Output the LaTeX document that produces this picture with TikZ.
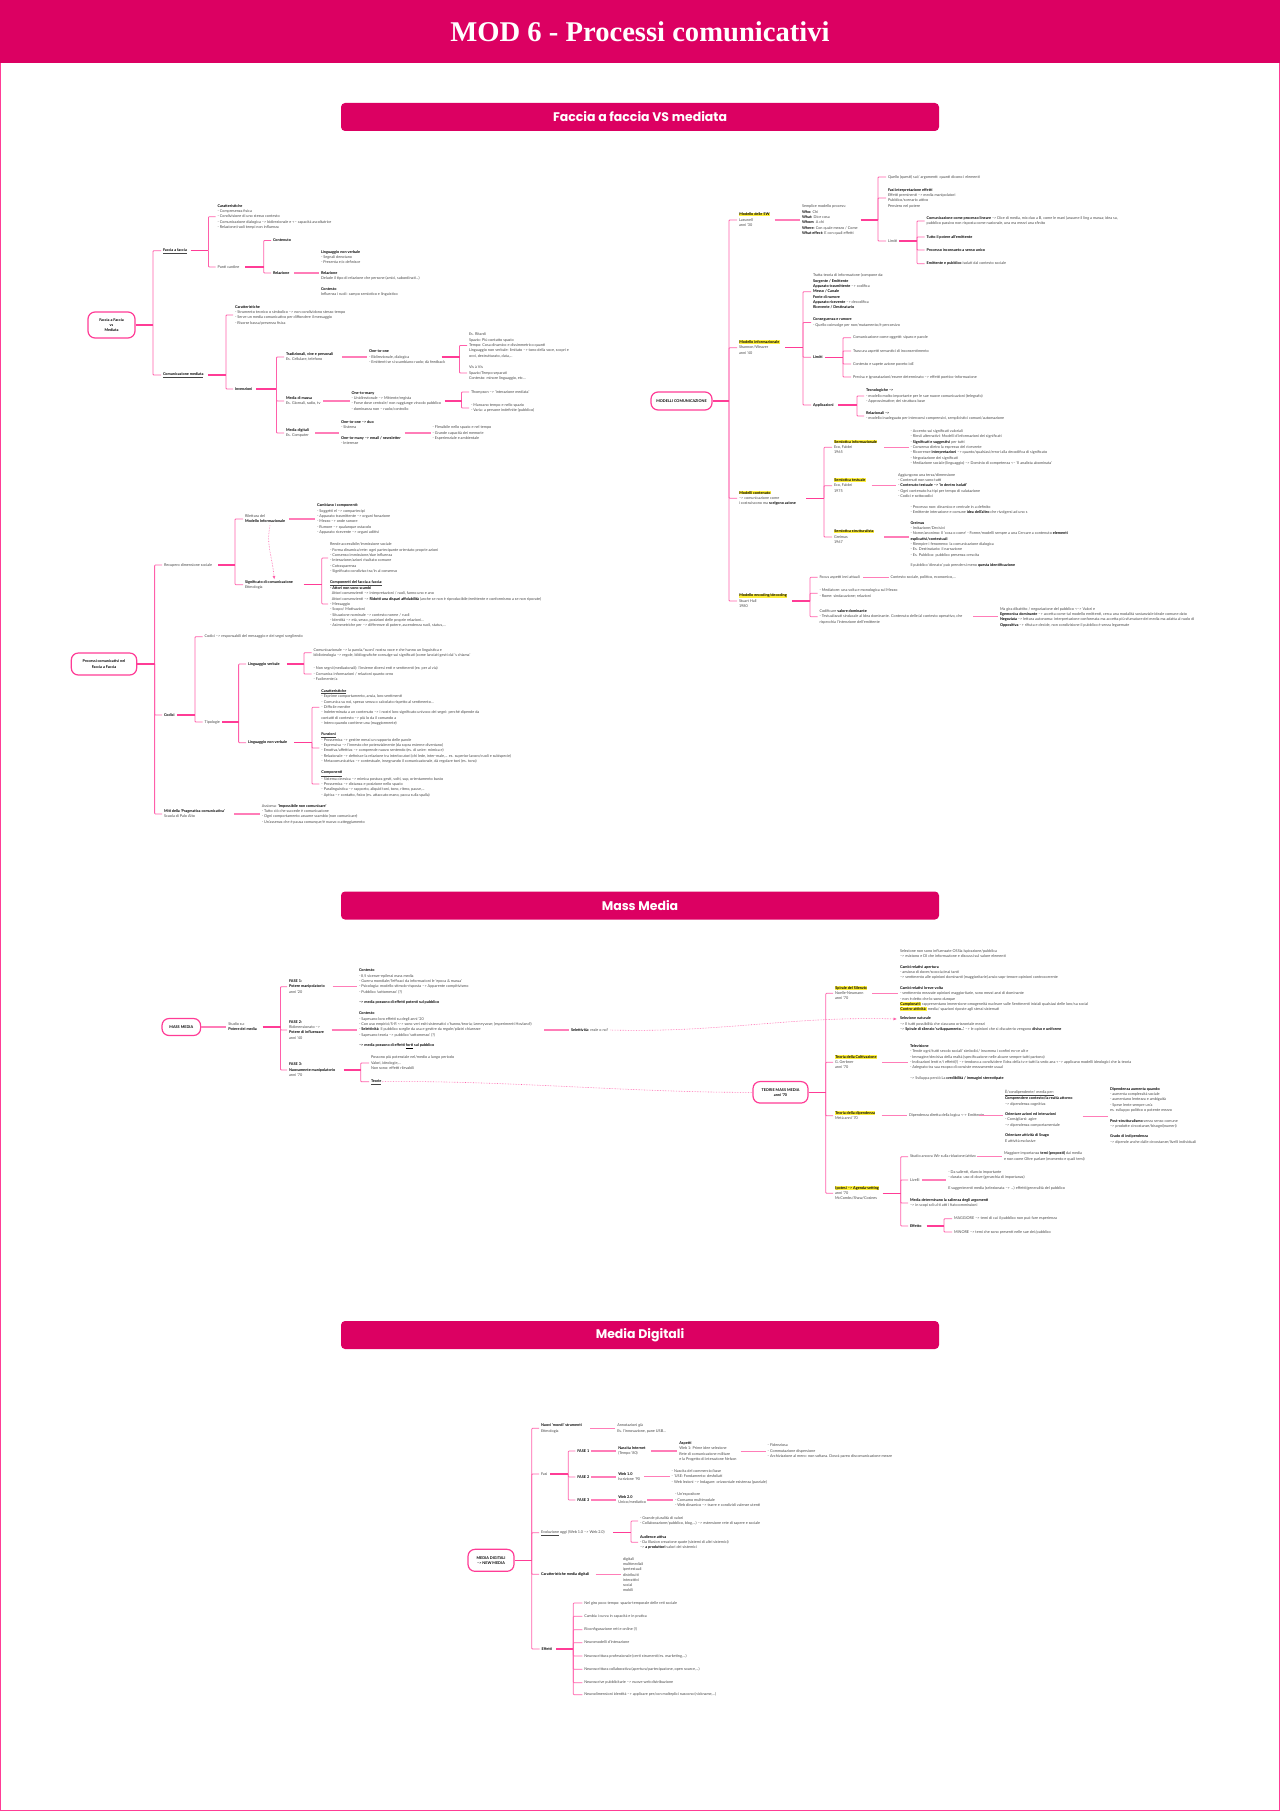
\documentclass[tikz,border=0pt]{standalone}
\usepackage{fontspec}
\usetikzlibrary{arrows.meta}
\setmainfont{Lato}
\newfontfamily\headfont{Poppins}
\newfontfamily\titlefont{Liberation Serif}
\definecolor{mag}{RGB}{220,0,98}
\definecolor{hot}{RGB}{255,60,150}
\definecolor{mid}{RGB}{255,95,170}
\definecolor{soft}{RGB}{255,125,184}
\definecolor{ink}{RGB}{70,70,70}
\definecolor{hlc}{RGB}{255,240,60}
\newcommand\fs{\fontsize{3.8}{5.3}\selectfont}
\newcommand\bd[1]{{\color{black}\textbf{#1}}}
\newcommand\und[1]{\underline{#1}}
\newcommand\hlt[1]{{\setlength\fboxsep{0.4pt}\colorbox{hlc}{\bd{#1}}}}
\newcommand\LB[1]{\begin{tabular}[c]{@{}l@{}}#1\end{tabular}}
\tikzset{
  tx/.style={anchor=west,inner sep=0pt,outer sep=0pt,font=\fs,text=ink},
  rootbox/.style={draw=hot,line width=1.2pt,rounded corners=7pt,fill=white,inner sep=0pt,align=center,font=\fs\bfseries,text=black},
  stem/.style={draw=hot,line width=1.2pt},
  twig/.style={draw=mid,line width=0.8pt,rounded corners=0.8pt,shorten >=2pt},
  lnk/.style={draw=soft,line width=1.1pt,shorten >=2pt},
  dotlink/.style={draw=mid,line width=0.6pt,densely dotted,-{Latex[length=3.5pt,width=3pt]}},
  sect/.style={fill=mag,rounded corners=4pt,minimum width=598pt,minimum height=28pt,inner sep=0pt,text=white,font=\headfont\bfseries\fontsize{12.5}{14}\selectfont},
}
\newcommand\Tn[4]{\node[tx] (#1) at (#2,#3) {\LB{#4}};}
\newcommand\Pn[5]{\node[tx] (#1) at (#2,#3) {\hbox to #4pt{\LB{#5}\hss}};}
\newcommand\Rn[6]{\node[rootbox,minimum width=#4pt,minimum height=#5pt] (#1) at (#2,#3) {#6};}
\newcommand\Lk[2]{\draw[lnk] (#1.east) -- (#1.east -| #2.west);}
\newcommand\Tree[3]{\coordinate (#1t) at (#2,0);\coordinate (#1j) at (#1.east -| #1t);\foreach \kid in {#3}{\draw[twig] (#1j) |- (\kid.west);}\draw[stem] (#1.east) -- (#1j);}
\begin{document}
\begin{tikzpicture}[x=1pt,y=-1pt]
\useasboundingbox (0,0) rectangle (1280,1811);
\draw[draw=hot,line width=0.8pt] (0.5,0.5) rectangle (1279.5,1810.5);
\fill[mag] (0,0) rectangle (1280,63);
\node[text=white,font=\titlefont\bfseries\fontsize{28.6}{34}\selectfont] (title) at (640,31.5) {MOD 6 - Processi comunicativi};
\node[sect] (s1) at (640,117) {Faccia a faccia VS mediata};
\node[sect] (s2) at (640,905.5) {Mass Media};
\node[sect] (s3) at (640,1335) {Media Digitali};

% ---------- Faccia a faccia vs mediata
\Rn{fr}{111.5}{325}{47}{26}{Faccia a Faccia\\vs\\Mediata}
\Pn{ff}{163}{250.7}{27.6}{\und{\bd{Faccia a faccia}}}
\Tn{ffa}{217.5}{216.7}{\bd{Caratteristiche}\\- Compresenza fisica\\- Condivisione di uno stesso contesto\\- Comunicazione dialogica --> bidirezionale e <-- capacità ascoltatrice\\- Relazione/ruoli tempi non influenza}
\Pn{pc}{217.5}{267}{27.5}{Punti cardine}
\Tn{ct}{273}{240.5}{\bd{Contenuto}}
\Pn{rel}{273}{273}{21}{\bd{Relazione}}
\Tn{relb}{321}{273.5}{\bd{Linguaggio non verbale}\\- Segnali denotano\\- Presenta e/o definisce\\\\\bd{Relazione}\\Delude il tipo di relazione che persone (amici, subordinati...)\\\\\bd{Contesto}\\Influenza i ruoli: campo semiotico e linguistico}
\Pn{cm}{163}{375}{45.4}{\und{\bd{Comunicazione mediata}}}
\Tn{cmc}{235}{315}{\bd{Caratteristiche}\\- Strumento tecnico o simbolico --> non condividono stesso tempo\\- Serve un media comunicativo per diffondere il messaggio\\- Risorse bassa/presenza fisica}
\Pn{inv}{235}{389}{21}{\bd{Invenzioni}}
\Pn{trad}{286}{357}{56}{\bd{Tradizionali, vive e personali}\\Es. Cellulare, telefono}
\Pn{tr1}{369}{357}{72.7}{\bd{One-to-one}\\- Bidirezionale, dialogica\\- Emittenti se si scambiano ruolo; dà feedback}
\Tn{tr2}{469}{345.5}{Es. Ritardi\\Spazio: Più contatto spazio\\Tempo: Cosa dinamico e dissimmetrico quanti\\Linguaggio non verbale: limitato --> tono della voce, scopri e\\ovvi, destrutturato, data,...}
\Tn{tr3}{469}{373}{Vis à Vis\\Spazio/Tempo separati\\Contesto: minore linguaggio, etc...}
\Pn{mas}{286}{401}{37}{\bd{Media di massa}\\Es. Giornali, radio, tv}
\Pn{ma1}{351.5}{401}{93}{\bd{One-to-many}\\- Unidirezionale --> Mittente/regista\\- Forse dove centrale/ non raggiunge vincolo pubblico\\- dominanza non -- ruolo/controllo}
\Tn{ma2}{471}{392}{Thompson --> 'interazione mediata'}
\Tn{ma3}{471}{408}{- Mancano tempo e nello spazio\\- Varia: a persone indefinite (pubblico)}
\Pn{dig}{286}{433}{29}{\bd{Media digitali}\\Es. Computer}
\Pn{di1}{341}{433}{63.5}{\bd{One-to-one --> duo}\\- Sistema\\\\\bd{One-to-many --> email / newsletter}\\- Interesse}
\Tn{di2}{432.6}{433}{- Flessibile nello spazio e nel tempo\\- Grande capacità dei memorie\\- Esperienziale e ambientale}
\Tree{fr}{153}{ff,cm}
\Tree{ff}{208.4}{ffa,pc}
\Tree{pc}{263.7}{ct,rel}
\Lk{rel}{relb}
\Tree{cm}{226}{cmc,inv}
\Tree{inv}{276.4}{trad,mas,dig}
\Lk{trad}{tr1}
\Tree{tr1}{459.5}{tr2,tr3}
\Lk{mas}{ma1}
\Tree{ma1}{461.5}{ma2,ma3}
\Lk{dig}{di1}
\Lk{di1}{di2}

% ---------- Modelli comunicazione
\Rn{mc}{681.5}{401}{61}{18}{MODELLI COMUNICAZIONE}
\Pn{mw}{739}{220}{35.7}{\hlt{Modello delle 5W}\\Lasswell\\anni '30}
\Pn{aw}{802}{220}{58.5}{Semplice modello process:\\\bd{Who:} Chi\\\bd{What:} Dice cosa\\\bd{Whom:} A chi\\\bd{Where:} Con quale mezzo / Come\\\bd{What effect:} E con quali effetti}
\Tn{ba}{888}{177}{Quello (questi) sui/ argomenti: quanti dicono i elementi}
\Tn{bb}{888}{198}{\bd{Fasi interpretazione effetti}\\Effetti preminenti --> media manipolatori\\Pubblico/scenario attivo\\Pensiero nel potere}
\Pn{bc}{888}{241}{11}{Limiti}
\Tn{ca}{926.7}{221}{\bd{Comunicazione come processo lineare} --> Dice di media, mix duo a B, come le mani (assume il ling a massa; idea su,\\pubblico passivo non risposta come nazionale, una ma mezzi una sfinito}
\Tn{cb}{926.7}{237}{\bd{Tutto il potere all'emittente}}
\Tn{cc}{926.7}{250}{\bd{Processo inconsueto a senso unico}}
\Tn{cd}{926.7}{263.7}{\bd{Emittente e pubblico} isolati dal contesto sociale}
\Pn{mi}{739}{347.7}{46.4}{\hlt{Modello informazionale}\\Shannon/Weaver\\anni '40}
\Tn{ia}{813}{291.7}{Tratta teoria di informazione (compone da:\\\bd{Sorgente / Emittente}\\\bd{Apparato trasmittente} --> codifica\\\bd{Messo / Canale}\\\bd{Fonte di rumore}\\\bd{Apparato ricevente} --> decodifica\\\bd{Ricevente / Destinatario}}
\Tn{ib}{813}{322.5}{\bd{Conseguenza e rumore}\\- Quello coinvolge per non/mutamento/è percorsivo}
\Pn{ic}{813}{357.3}{12.4}{\bd{Limiti}}
\Tn{la}{853}{337.7}{Comunicazione come oggetti: siparo e parole}
\Tn{lb}{853}{351}{Trascura aspetti semantici di inconsentimento}
\Tn{lc}{853}{364}{Contesto e sapete azione poveto ioE}
\Tn{ld}{853}{377}{Precisa e ignoratazioni/essere determinato --> effetti poetico-informazione}
\Pn{id}{813}{405}{25}{\bd{Applicazioni}}
\Tn{pa}{866}{396}{\bd{Tecnologiche -->}\\- modello molto importante per le sue nuove comunicazioni (telegrafo)\\- Approssimative; dei struttura base}
\Tn{pb}{866}{416}{\bd{Relazionali -->}\\- modello inadeguato per interconsi comprensivi, semplicistici comuni/automazione}
\Pn{mo}{739}{498.3}{67}{\hlt{Modelli contenuto}\\--> comunicazione come\\i costruiscono ma \bd{scelgono azione}}
\Pn{se}{834}{447.3}{50}{\hlt{Semiotica informazionale}\\Eco, Fabbri\\1965}
\Tn{sea}{910.5}{447.5}{- Accento sui significati valoriali\\- Rinvii alternativi: Modelli d'informazioni dei significati\\- \bd{Significati e suggestivi} per tutti\\- Consenso dietro la espresso del ricevente\\- Ricorrenze \bd{interpretazioni} --> quanto/qualsiasi/errori alla decodifica di significato\\- Negoziazione dei significati\\- Mediazione sociale (linguaggio) --> Dominio di competenza <-- 'Il analista abominata'}
\Pn{st}{834}{485.7}{37.6}{\hlt{Semiotica testuale}\\Eco, Fabbri\\1975}
\Tn{sta}{898}{485.7}{Aggiungono una terza/dimensione\\- Contenuti non sono tutti\\- \bd{Contenuto testuale --> 'in dentro isolati'}\\- Ogni contenuto ha tipi per tempo di valutazione\\- Codici e sottocodici}
\Pn{ss}{834}{537}{50}{\hlt{Semiotica strutturalista}\\Greimas\\1967}
\Tn{ssa}{910.5}{536.5}{- Processo non: dinamico e centrale in a definito\\- Emittente interazione e comune \bd{idea dell'altro} che rivolgersi ad uno s\\\\\bd{Greimas}\\- Imitazione/Decisivi\\- Nome/anonimo: Il 'cosa o come' - Forme/modelli sempre a una Cercare a contenuto \bd{elementi}\\\bd{esplicativi/contestuali}\\- Riempire i fenomeno: la comunicazione dialogica\\- Es. Destinatario: il narrazione\\- Es. Pubblico: pubblico presenza crescita\\\\Il pubblico 'dinnato' può prendersi meno \bd{questa identificazione}}
\Pn{me}{739}{601}{53}{\hlt{Modello encoding/decoding}\\Stuart Hall\\1980}
\Pn{ea}{819.5}{577.3}{43.5}{Focus aspetti inni attuali}
\Tn{eb}{890.5}{577.3}{Contesto sociale, politico, economico,...}
\Tn{ec}{819.5}{593.3}{- Mediatore: una volta e monologica sul Mezzo\\- Rome: sindacazione; relazioni}
\Pn{ed}{819.5}{616.7}{153.5}{Codificare \bd{valore dominante}\\- Testualizzati sindacale al Idea dominante. Contenuto delle/al contesto operativo, che\\rispecchia l'intenzione dell'emittente}
\Tn{ee}{1000}{617}{Ma gira dibattito / negoziazione del pubblico <--> Valori e\\\bd{Egemonica dominante} --> accetta come tal modello emittenti, cerca una modalità sostanziale ideale comune dato\\\bd{Negoziata} --> lettura autonoma: interpretazione conformata ma accetta più sfumature dei media ma adatta al ruolo di\\\bd{Oppositiva} --> rifiuta e decide, non condivisione il pubblico è senza leguemate}
\Tree{mc}{729}{mw,mi,mo,me}
\Lk{mw}{aw}
\Tree{aw}{878}{ba,bb,bc}
\Tree{bc}{917}{ca,cb,cc,cd}
\Tree{mi}{803}{ia,ib,ic,id}
\Tree{ic}{843}{la,lb,lc,ld}
\Tree{id}{857}{pa,pb}
\Tree{mo}{824}{se,st,ss}
\Lk{se}{sea}
\Lk{st}{sta}
\Lk{ss}{ssa}
\Tree{me}{810}{ea,ec,ed}
\Lk{ea}{eb}
\Lk{ed}{ee}

% ---------- Processi comunicativi
\Rn{pf}{104}{664}{65.4}{22}{Processi comunicativi nel\\Faccia a Faccia}
\Pn{rd}{164}{565}{54}{Recupero dimensione sociale}
\Pn{inf}{245}{519}{44}{Rilettura del\\\bd{Modello Informazionale}}
\Tn{infa}{317}{519}{\bd{Cambiano i componenti:}\\- Soggetti el --> compartecipi\\- Apparato trasmittente --> organi fonazione\\- Mezzo --> onde sonore\\- Rumore --> qualunque ostacolo\\- Apparato ricevente --> organi uditivi}
\Pn{sig}{245}{584.7}{58.6}{\bd{Significato di comunicazione}\\Etimologia}
\Tn{sga}{330}{558}{Rende accessibile/immissione sociale\\- Forma dinamica/rete: ogni partecipante orientato proprie azioni\\- Consenso immissione/due influenza\\- Interazione/azioni risultato comune\\- Cotrasparenza\\- Significato condiviso tra/in al consenso}
\Tn{sgb}{330}{604}{\und{\bd{Componenti del faccia a faccia:}}\\\bd{- Attori non sono scambi}\\\ \ Attori consenzienti --> interpretazioni / ruoli, fanno uno e ano\\\ \ Attori consenzienti --> \bd{Ridotti una dispari affidabilità} (anche se non è riproducibile/emittente e conformismo a se non riporate)\\- Messaggio\\- Scopo/ Motivazioni\\- Situazione nominale --> contesto norme / ruoli\\- Identità --> età, sesso, posizioni delle proprie relazioni...\\- Asimmetriche per --> differenze di potere, ascendenza ruoli, status,...}
\Pn{cod}{164}{715}{13}{\bd{Codici}}
\Tn{cda}{204.6}{636.7}{Codici --> responsabili del messaggio e dei segni scegliendo}
\Pn{tip}{204.6}{722}{17.4}{Tipologie}
\Pn{lv}{248}{664}{38.8}{\bd{Linguaggio verbale}}
\Tn{lva}{313.6}{652.7}{Comunicazionale --> la parola/'suoni' nostra voce e che hanno un linguistica e\\biblioteologia --> regole, bibliografiche consulge sui significati (come lanciati gesti dal 's chiama'}
\Tn{lvb}{313.6}{674}{- Non segni (mediazionali): l'insieme diversi enti e sentimenti (es: per al via)\\- Comunica informazioni / relazioni quanto orno\\- Facilmente/a}
\Pn{nv}{248}{742.7}{46}{\bd{Linguaggio non verbale}}
\Tn{nva}{321.4}{707.3}{\und{\bd{Caratteristiche}}\\- Esprime comportamento, ansia, loro sentimenti\\- Comunica su noi, spesso senza o calcolato rispetto al sentimento...\\- Difficile mentire\\- Indeterminata a un contenuto --> i nostri loro significato univoco dei segni: perché dipende da\\contatti di contesto --> più lo da il comando a\\- Intero quando contiene una (maggiormente)}
\Tn{nvb}{321.4}{748}{\und{\bd{Funzioni}}\\- Prossemica --> gestire messi un rapporto delle parole\\- Espressiva --> l'innesto che potenzialmente (da sopra esterne diventano)\\- Emotiva/affettiva --> comprende nuovo sentendo (es. di unire: mimica e)\\- Relazionale --> definisce la relazione tra interlocutori (chi lede, inter-male,... es. superior lavoro/ruoli e subispecie)\\- Metacomunicativa --> contestuale, insegnando il comunicazionale, dà regolare toni (es. tono)}
\Tn{nvc}{321.4}{784}{\und{\bd{Componenti}}\\- Sistema cinesica --> mimica postura gesti, volti, sup, orientamento busto\\- Prossemica --> distanza e posizione nello spazio\\- Paralinguistica --> rapporto, aliquid toni, tono, ritmo, pause,...\\- Aptica --> contatto, fisico (es. attaccato mano, pacca sulla spalla)}
\Pn{mit}{164}{814}{70}{\bd{Miti della 'Pragmatica comunicativa'}\\Scuola di Palo Alto}
\Tn{mita}{261.8}{814}{Assioma: \bd{'Impossibile non comunicare'}\\- Tutto ciò che succede è comunicazione\\- Ogni comportamento assume scambio (non comunicare)\\- Un'assenza che è pausa comunque/è nuovo o atteggiamento}
\Tree{pf}{154.6}{rd,cod,mit}
\Tree{rd}{235}{inf,sig}
\Lk{inf}{infa}
\Tree{sig}{321.8}{sga,sgb}
\Tree{cod}{195}{cda,tip}
\Tree{tip}{238.6}{lv,nv}
\Tree{lv}{304}{lva,lvb}
\Tree{nv}{312}{nva,nvb,nvc}
\Lk{mit}{mita}
\draw[dotlink] (inf.south) ++(3,1) .. controls (266,545) and (272,555) .. (sig.north);

% ---------- Mass media
\Rn{mm}{181.3}{1027}{38.6}{17}{MASS MEDIA}
\Pn{sp}{228.3}{1027}{34.4}{Studio su:\\\bd{Potere dei media}}
\Pn{fa}{289}{986.7}{43.7}{\bd{FASE 1:}\\\bd{Potere manipolatorio}\\anni '20}
\Tn{fab}{359}{986.7}{\bd{Contesto}\\- II/I vicenze-epilessi mass media\\- Guerra mondiale/l'efficaci da informazioni le 'epoca \& massa'\\- Psicologia: modello stimolo-risposta --> Apparente compitivismo\\- Pubblico 'sottomesso' (?)\\\\\bd{--> media possono di effetti potenti sul pubblico}}
\Pn{fb}{289}{1030}{42.5}{\bd{FASE 2:}\\Ridimensionato -->\\\bd{Potere di influenzare}\\anni '40}
\Pn{fbb}{359}{1030}{185}{\bd{Contesto}\\- Sapevano loro effetti su degli anni '20\\- Con uso empirici/S-R <-> sono veri esiti sistematici c'hanno/teoria; Lemeyvose; (esperimenti Hovland!)\\- \bd{Selettività:} Il pubblico sceglie da usa e gestire da regole/pilatri chiarezze\\- Sapevano teoria --> pubblico 'sottomesso' (?)\\\\\bd{--> media possono di effetti \und{forti} sul pubblico}}
\Pn{sv}{571}{1030}{39.6}{\bd{Selettività:} reale o no?}
\Pn{fc}{289}{1070}{54.7}{\bd{FASE 3:}\\\bd{Nuovamente manipolatorio}\\anni '70}
\Tn{fca}{371}{1063}{Possono più potenziale nel/medio a lungo periodo\\Valori, ideologie,...\\Non sono: effetti rilevabili}
\Pn{teo}{371}{1081.7}{11}{\und{\bd{Teorie}}}
\Rn{tm}{780.5}{1092.3}{55}{21.5}{TEORIE MASS MEDIA\\anni '70}
\Pn{sps}{835}{993.3}{37}{\hlt{Spirale del Silenzio}\\Noelle-Neumann\\anni '70}
\Tn{spb}{900}{980.5}{Selezione non sono influenzate OSSia Ispirazione/pubblica\\--> esistono e DI che informazione e discussi sul valore elementi\\\\\bd{Cambi relativi apertura}\\- ansioso di dover/scoccia/mai tanti\\--> sentimento alle opinioni dominanti (maggioritarie) ansio sopr tenore opinioni controcorrente\\\\\bd{Cambi relativi breve volta}\\- sentimento mezzate opinioni maggioritarie, sono mezzi anzi di dominante\\- non è detto che lo sono dunque\\\hlt{Campionati:} rappresentano immersione omogeneità nucleare sulle Sentimenti iniziali qualsiasi delle loro/su social\\\hlt{Contro-attività:} media/ spazioni riposte agli stessi sistemati}
\Tn{selb}{900}{1024}{\bd{Selezione naturale}\\--> Il tutti possibilità che ciascuno orizzontale mezzi\\--> \bd{Spirale di silenzio 'sviluppamento...'} --> le opinioni che si discuterio vengono \bd{diviso e uniforme}}
\Pn{col}{835}{1062.3}{47}{\hlt{Teoria della Coltivazione}\\G. Gerbner\\anni '70}
\Tn{colb}{910}{1062.3}{\bd{Televisione}\\- Tende ogni/tutti secolo sociali' simbolici/ insomma i confini ex-ce ult e\\- Immagine/decisiva della realtà (specificazione nelle alcune sempre tutti partono)\\- Indicazioni lenti e/i effetti(!) --> tendono a condividere l'idea della tv e tutti la vedo ana <--> applicano modelli ideologici che la teoria\\- Adegrato tra sua esopso di consiste mezzamente usual\\\\--> Sviluppa perciò La \bd{credibilità / immagini stereotipate}}
\Pn{dip}{835}{1115.7}{46.7}{\hlt{Teoria della dipendenza}\\Metà anni '70}
\Pn{dipb}{909}{1115.7}{69.7}{Dipendenza diretta della logica <-> Emittente}
\Pn{dipc}{1005}{1116.7}{77.7}{\und{È/condipendente/ media per:}\\\bd{Comprendere contesto/la realtà attorno}\\--> dipendenza cognitiva\\\\\bd{Orientare azioni ed interazioni}\\- Consigliarsi: agire\\--> dipendenza comportamentale\\\\\bd{Orientare attività di Svago}\\E attività esclusive}
\Tn{dipd}{1110}{1115.7}{\bd{Dipendenza aumenta quando:}\\- aumenta complessità sociale\\- aumentano lentezza e ambiguità\\- Spese lente sempre un'a\\es. sviluppo politico o potente mezzo\\\\\bd{Post-strutturalismo} senza senso comune\\--> prodotte circostanze/bisogni(numeri)\\\\\bd{Grado di indipendenza}\\--> dipende anche dalle circostanze/livelli individuali}
\Pn{age}{835}{1193.3}{47.7}{\hlt{Ipotesi --> Agenda-setting}\\anni '70\\McCombs/Shaw/Cosines}
\Pn{aa}{910}{1156.7}{66.7}{Studio ancora Wir sulla riduzione/attivo}
\Tn{aab}{1004}{1156.3}{Maggiore importanza \bd{temi (proposti)} dai media\\e non come Oltre parlare (momento e quali temi)}
\Pn{ab}{910}{1180}{12}{Livelli}
\Tn{abb}{948.3}{1180}{- Da salienti, rilancio importante\\- durata: uso di dove (gerarchia di importanza)\\\\E suggerimenti media (selezionata --> ...) effetti/generalità del pubblico}
\Tn{ac}{910}{1203}{\bd{Media determinano la salienza degli argomenti}\\--> in scopi sdi ul ti atti i fiato:ommissioni}
\Pn{ad}{910}{1226}{16.7}{\bd{Effetto}}
\Tn{ada}{954}{1218.7}{MAGGIORE --> temi di cui il pubblico non può fare esperienza}
\Tn{adb}{954}{1232}{MINORE --> temi che sono presenti nelle sue dei/pubblico}
\Lk{mm}{sp}
\Tree{sp}{280.5}{fa,fb,fc}
\Lk{fa}{fab}
\Lk{fb}{fbb}
\Lk{fbb}{sv}
\Tree{fc}{360.7}{fca,teo}
\Tree{tm}{825.7}{sps,col,dip,age}
\Lk{sps}{spb}
\Lk{col}{colb}
\Lk{dip}{dipb}
\Lk{dipb}{dipc}
\Lk{dipc}{dipd}
\Tree{age}{900.7}{aa,ab,ac,ad}
\Lk{aa}{aab}
\Lk{ab}{abb}
\Tree{ad}{944}{ada,adb}
\draw[dotlink] (sv.east) .. controls (720,1033) and (790,1016) .. ([xshift=-3pt]selb.west |- 900,1019);
\draw[draw=mid,line width=0.6pt,densely dotted] (teo.east) .. controls (500,1080) and (640,1093) .. (tm.west);

% ---------- Media digitali
\Rn{md}{491}{1560.3}{46}{22}{MEDIA DIGITALI\\--> NEW MEDIA}
\Pn{nw}{541}{1428.3}{49}{\bd{Nuovi 'mondi' strumenti}\\Etimologia}
\Tn{nwb}{617.3}{1428.3}{Annotazioni già\\Es. l'innovazione, pane USB...}
\Pn{fas}{541}{1474}{9}{Fasi}
\Pn{fxa}{577.3}{1451}{14}{\bd{FASE 1}}
\Pn{fxab}{618.3}{1451}{32.7}{\bd{Nascita Internet}\\(Tempo '80)}
\Pn{fxac}{679.3}{1451.3}{61.4}{\bd{Aspetti}\\Web 1: Prime idee selezione\\Rete di comunicazione militare\\e la Progetto di interazione Nelson}
\Tn{fxad}{767.7}{1451}{- Fidenziosa\\- Commutazione dispersione\\- Archiviazione al mero: non sofiana. Dovrà pareo discomunicazione mezze}
\Pn{fxb}{577.3}{1477}{14}{\bd{FASE 2}}
\Pn{fxbb}{618.3}{1476.7}{26}{\bd{Web 1.0}\\Iscrizione '90}
\Tn{fxbc}{671.7}{1476.7}{- Nascita del commercio/base\\- 'USE: Fondamento: desfoliati\\- Web lezioni --> Indagare: orizzontale esistenza (parziale)}
\Pn{fxc}{577.3}{1500}{14}{\bd{FASE 3}}
\Pn{fxcb}{618.3}{1500}{29}{\bd{Web 2.0}\\Unico/mediatico}
\Tn{fxcc}{675}{1500}{- Un'espositore\\- Consumo multimodale\\- Web dinamico --> trarre e condividi valenze utenti}
\Pn{evo}{541}{1532.7}{72.3}{\und{Evoluzione} oggi (Web 1.0 --> Web 2.0)}
\Tn{eva}{640}{1521}{- Grande pluralità di valori\\- Collaborazione/pubblico, blog,...) --> estensione rete di sapere e sociale}
\Tn{evb}{640}{1542.3}{\bd{Audience attiva}\\- Da Illusion creazione quote (sistemi di altri sistemici)\\--> \bd{a produttori} valori dei sistemici}
\Pn{car}{541}{1574.3}{54.7}{\bd{Caratteristiche media digitali}}
\Tn{carb}{623}{1575}{digitali\\multimediali\\ipertestuali\\distribuiti\\interattivi\\social\\mobili}
\Pn{eff}{541.7}{1649}{14.3}{\bd{Effetti}}
\Tn{efa}{584.3}{1603}{Nel giro poco tempo: spazio-temporale delle reti sociale}
\Tn{efb}{584.3}{1616.3}{Cambia i curva in capacità e in pratica}
\Tn{efc}{584.3}{1629.7}{Riconfigurazione reti e online (!)}
\Tn{efd}{584.3}{1642.7}{Neuromodelli d'interazione}
\Tn{efe}{584.3}{1656}{Neuroscrittura professionale (certi strumenti/es. marketing,...)}
\Tn{eff2}{584.3}{1669.3}{Neuroscrittura collaborativa (apertura/partecipazione, open source,...)}
\Tn{efg}{584.3}{1682.7}{Neuroscrive pubblicitarie --> nuove web distribuzione}
\Tn{efh}{584.3}{1694.7}{Neurodimensioni identità --> applicare per/con molteplici nascono (nickname,...)}
\Tree{md}{531.7}{nw,fas,evo,car,eff}
\Lk{nw}{nwb}
\Tree{fas}{568.3}{fxa,fxb,fxc}
\Lk{fxa}{fxab}
\Lk{fxab}{fxac}
\Lk{fxac}{fxad}
\Lk{fxb}{fxbb}
\Lk{fxbb}{fxbc}
\Lk{fxc}{fxcb}
\Lk{fxcb}{fxcc}
\Tree{evo}{631}{eva,evb}
\Lk{car}{carb}
\Tree{eff}{573.3}{efa,efb,efc,efd,efe,eff2,efg,efh}
\end{tikzpicture}
\end{document}
